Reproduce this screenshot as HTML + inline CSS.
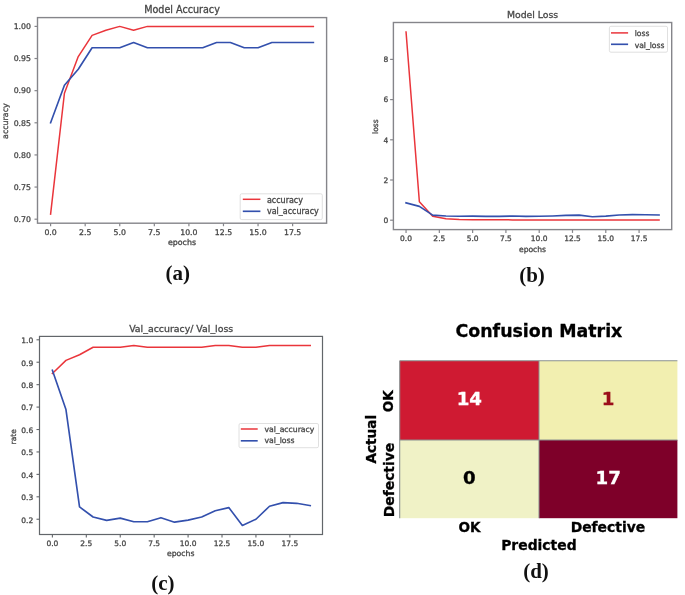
<!DOCTYPE html><html><head><meta charset="utf-8"><style>html,body{margin:0;padding:0;background:#fff;}svg{display:block;}</style></head><body>
<svg width="685" height="595" viewBox="0 0 685 595">
<rect width="685" height="595" fill="#fff"/>
<polyline points="50.60,214.06 64.43,93.23 78.26,56.60 92.09,35.39 105.92,30.25 119.75,26.39 133.58,30.25 147.41,26.39 161.24,26.39 175.07,26.39 188.90,26.39 202.73,26.39 216.56,26.39 230.39,26.39 244.22,26.39 258.05,26.39 271.88,26.39 285.71,26.39 299.54,26.39 313.37,26.39" fill="none" stroke="#ea353b" stroke-width="1.5" stroke-linejoin="round" stroke-linecap="square"/>
<polyline points="50.60,122.79 64.43,85.33 78.26,69.26 92.09,47.79 105.92,47.79 119.75,47.79 133.58,42.46 147.41,47.79 161.24,47.79 175.07,47.79 188.90,47.79 202.73,47.79 216.56,42.46 230.39,42.46 244.22,47.79 258.05,47.79 271.88,42.46 285.71,42.46 299.54,42.46 313.37,42.46" fill="none" stroke="#3350ad" stroke-width="1.65" stroke-linejoin="round" stroke-linecap="square"/>
<rect x="37.5" y="17.6" width="289.1" height="205.6" fill="none" stroke="#85858a" stroke-width="1.4"/>
<line x1="50.60" y1="223.2" x2="50.60" y2="226.2" stroke="#85858a" stroke-width="1.2"/>
<text x="50.6" y="234.8" font-size="7.8" text-anchor="middle" font-weight="normal" font-family="'DejaVu Sans', 'Liberation Sans', sans-serif" fill="#474747" stroke="#474747" stroke-width="0.3">0.0</text>
<line x1="85.18" y1="223.2" x2="85.18" y2="226.2" stroke="#85858a" stroke-width="1.2"/>
<text x="85.18" y="234.8" font-size="7.8" text-anchor="middle" font-weight="normal" font-family="'DejaVu Sans', 'Liberation Sans', sans-serif" fill="#474747" stroke="#474747" stroke-width="0.3">2.5</text>
<line x1="119.75" y1="223.2" x2="119.75" y2="226.2" stroke="#85858a" stroke-width="1.2"/>
<text x="119.75" y="234.8" font-size="7.8" text-anchor="middle" font-weight="normal" font-family="'DejaVu Sans', 'Liberation Sans', sans-serif" fill="#474747" stroke="#474747" stroke-width="0.3">5.0</text>
<line x1="154.32" y1="223.2" x2="154.32" y2="226.2" stroke="#85858a" stroke-width="1.2"/>
<text x="154.32" y="234.8" font-size="7.8" text-anchor="middle" font-weight="normal" font-family="'DejaVu Sans', 'Liberation Sans', sans-serif" fill="#474747" stroke="#474747" stroke-width="0.3">7.5</text>
<line x1="188.90" y1="223.2" x2="188.90" y2="226.2" stroke="#85858a" stroke-width="1.2"/>
<text x="188.9" y="234.8" font-size="7.8" text-anchor="middle" font-weight="normal" font-family="'DejaVu Sans', 'Liberation Sans', sans-serif" fill="#474747" stroke="#474747" stroke-width="0.3">10.0</text>
<line x1="223.47" y1="223.2" x2="223.47" y2="226.2" stroke="#85858a" stroke-width="1.2"/>
<text x="223.47" y="234.8" font-size="7.8" text-anchor="middle" font-weight="normal" font-family="'DejaVu Sans', 'Liberation Sans', sans-serif" fill="#474747" stroke="#474747" stroke-width="0.3">12.5</text>
<line x1="258.05" y1="223.2" x2="258.05" y2="226.2" stroke="#85858a" stroke-width="1.2"/>
<text x="258.05" y="234.8" font-size="7.8" text-anchor="middle" font-weight="normal" font-family="'DejaVu Sans', 'Liberation Sans', sans-serif" fill="#474747" stroke="#474747" stroke-width="0.3">15.0</text>
<line x1="292.62" y1="223.2" x2="292.62" y2="226.2" stroke="#85858a" stroke-width="1.2"/>
<text x="292.62" y="234.8" font-size="7.8" text-anchor="middle" font-weight="normal" font-family="'DejaVu Sans', 'Liberation Sans', sans-serif" fill="#474747" stroke="#474747" stroke-width="0.3">17.5</text>
<line x1="34.5" y1="219.20" x2="37.5" y2="219.20" stroke="#85858a" stroke-width="1.2"/>
<text x="31.0" y="222.01" font-size="7.8" text-anchor="end" font-weight="normal" font-family="'DejaVu Sans', 'Liberation Sans', sans-serif" fill="#474747" stroke="#474747" stroke-width="0.3">0.70</text>
<line x1="34.5" y1="187.06" x2="37.5" y2="187.06" stroke="#85858a" stroke-width="1.2"/>
<text x="31.0" y="189.87" font-size="7.8" text-anchor="end" font-weight="normal" font-family="'DejaVu Sans', 'Liberation Sans', sans-serif" fill="#474747" stroke="#474747" stroke-width="0.3">0.75</text>
<line x1="34.5" y1="154.93" x2="37.5" y2="154.93" stroke="#85858a" stroke-width="1.2"/>
<text x="31.0" y="157.74" font-size="7.8" text-anchor="end" font-weight="normal" font-family="'DejaVu Sans', 'Liberation Sans', sans-serif" fill="#474747" stroke="#474747" stroke-width="0.3">0.80</text>
<line x1="34.5" y1="122.79" x2="37.5" y2="122.79" stroke="#85858a" stroke-width="1.2"/>
<text x="31.0" y="125.6" font-size="7.8" text-anchor="end" font-weight="normal" font-family="'DejaVu Sans', 'Liberation Sans', sans-serif" fill="#474747" stroke="#474747" stroke-width="0.3">0.85</text>
<line x1="34.5" y1="90.66" x2="37.5" y2="90.66" stroke="#85858a" stroke-width="1.2"/>
<text x="31.0" y="93.47" font-size="7.8" text-anchor="end" font-weight="normal" font-family="'DejaVu Sans', 'Liberation Sans', sans-serif" fill="#474747" stroke="#474747" stroke-width="0.3">0.90</text>
<line x1="34.5" y1="58.52" x2="37.5" y2="58.52" stroke="#85858a" stroke-width="1.2"/>
<text x="31.0" y="61.33" font-size="7.8" text-anchor="end" font-weight="normal" font-family="'DejaVu Sans', 'Liberation Sans', sans-serif" fill="#474747" stroke="#474747" stroke-width="0.3">0.95</text>
<line x1="34.5" y1="26.39" x2="37.5" y2="26.39" stroke="#85858a" stroke-width="1.2"/>
<text x="31.0" y="29.2" font-size="7.8" text-anchor="end" font-weight="normal" font-family="'DejaVu Sans', 'Liberation Sans', sans-serif" fill="#474747" stroke="#474747" stroke-width="0.3">1.00</text>
<text x="182" y="12.9" font-size="9.6" text-anchor="middle" font-weight="normal" font-family="'DejaVu Sans', 'Liberation Sans', sans-serif" fill="#474747" stroke="#474747" stroke-width="0.3">Model Accuracy</text>
<text x="182" y="245.0" font-size="7.9" text-anchor="middle" font-weight="normal" font-family="'DejaVu Sans', 'Liberation Sans', sans-serif" fill="#474747" stroke="#474747" stroke-width="0.3">epochs</text>
<text x="7.8" y="121.1" font-size="7.9" text-anchor="middle" font-weight="normal" font-family="'DejaVu Sans', 'Liberation Sans', sans-serif" fill="#474747" stroke="#474747" stroke-width="0.3" transform="rotate(-90 7.8 121.1)">accuracy</text>
<rect x="240.2" y="193.8" width="82.10000000000002" height="25.799999999999983" rx="1.5" fill="#fff" fill-opacity="0.8" stroke="#d8d8d8" stroke-width="0.8"/>
<line x1="242.8" y1="199.3" x2="260.4" y2="199.3" stroke="#ea353b" stroke-width="1.5"/>
<line x1="242.8" y1="211.3" x2="260.4" y2="211.3" stroke="#3350ad" stroke-width="1.65"/>
<text x="266.9" y="202.6" font-size="8.0" text-anchor="start" font-weight="normal" font-family="'DejaVu Sans', 'Liberation Sans', sans-serif" fill="#474747" stroke="#474747" stroke-width="0.3">accuracy</text>
<text x="266.9" y="214.3" font-size="8.0" text-anchor="start" font-weight="normal" font-family="'DejaVu Sans', 'Liberation Sans', sans-serif" fill="#474747" stroke="#474747" stroke-width="0.3">val_accuracy</text>
<text x="177.8" y="279.8" font-size="21" text-anchor="middle" font-weight="bold" font-family="'Liberation Serif', 'Times New Roman', serif" fill="#111">(a)</text>
<polyline points="406.05,32.06 419.37,201.71 432.68,216.18 446.00,218.79 459.31,219.50 472.63,219.70 485.95,219.80 499.26,219.84 512.58,219.88 525.89,219.90 539.21,219.92 552.53,219.94 565.84,219.96 579.16,219.96 592.47,219.98 605.79,219.98 619.11,220.00 632.42,220.00 645.74,220.00 659.05,220.00" fill="none" stroke="#ea353b" stroke-width="1.5" stroke-linejoin="round" stroke-linecap="square"/>
<polyline points="406.05,202.83 419.37,206.35 432.68,215.07 446.00,215.98 459.31,216.28 472.63,216.08 485.95,216.40 499.26,216.40 512.58,216.04 525.89,216.44 539.21,216.26 552.53,215.98 565.84,215.42 579.16,215.13 592.47,216.74 605.79,216.18 619.11,215.01 632.42,214.69 645.74,214.75 659.05,214.95" fill="none" stroke="#3350ad" stroke-width="1.65" stroke-linejoin="round" stroke-linecap="square"/>
<rect x="393.4" y="22.5" width="278.30000000000007" height="207.1" fill="none" stroke="#85858a" stroke-width="1.4"/>
<line x1="406.05" y1="229.6" x2="406.05" y2="232.9" stroke="#85858a" stroke-width="1.2"/>
<text x="406.05" y="241.4" font-size="7.5" text-anchor="middle" font-weight="normal" font-family="'DejaVu Sans', 'Liberation Sans', sans-serif" fill="#474747" stroke="#474747" stroke-width="0.3">0.0</text>
<line x1="439.34" y1="229.6" x2="439.34" y2="232.9" stroke="#85858a" stroke-width="1.2"/>
<text x="439.34" y="241.4" font-size="7.5" text-anchor="middle" font-weight="normal" font-family="'DejaVu Sans', 'Liberation Sans', sans-serif" fill="#474747" stroke="#474747" stroke-width="0.3">2.5</text>
<line x1="472.63" y1="229.6" x2="472.63" y2="232.9" stroke="#85858a" stroke-width="1.2"/>
<text x="472.63" y="241.4" font-size="7.5" text-anchor="middle" font-weight="normal" font-family="'DejaVu Sans', 'Liberation Sans', sans-serif" fill="#474747" stroke="#474747" stroke-width="0.3">5.0</text>
<line x1="505.92" y1="229.6" x2="505.92" y2="232.9" stroke="#85858a" stroke-width="1.2"/>
<text x="505.92" y="241.4" font-size="7.5" text-anchor="middle" font-weight="normal" font-family="'DejaVu Sans', 'Liberation Sans', sans-serif" fill="#474747" stroke="#474747" stroke-width="0.3">7.5</text>
<line x1="539.21" y1="229.6" x2="539.21" y2="232.9" stroke="#85858a" stroke-width="1.2"/>
<text x="539.21" y="241.4" font-size="7.5" text-anchor="middle" font-weight="normal" font-family="'DejaVu Sans', 'Liberation Sans', sans-serif" fill="#474747" stroke="#474747" stroke-width="0.3">10.0</text>
<line x1="572.50" y1="229.6" x2="572.50" y2="232.9" stroke="#85858a" stroke-width="1.2"/>
<text x="572.5" y="241.4" font-size="7.5" text-anchor="middle" font-weight="normal" font-family="'DejaVu Sans', 'Liberation Sans', sans-serif" fill="#474747" stroke="#474747" stroke-width="0.3">12.5</text>
<line x1="605.79" y1="229.6" x2="605.79" y2="232.9" stroke="#85858a" stroke-width="1.2"/>
<text x="605.79" y="241.4" font-size="7.5" text-anchor="middle" font-weight="normal" font-family="'DejaVu Sans', 'Liberation Sans', sans-serif" fill="#474747" stroke="#474747" stroke-width="0.3">15.0</text>
<line x1="639.08" y1="229.6" x2="639.08" y2="232.9" stroke="#85858a" stroke-width="1.2"/>
<text x="639.08" y="241.4" font-size="7.5" text-anchor="middle" font-weight="normal" font-family="'DejaVu Sans', 'Liberation Sans', sans-serif" fill="#474747" stroke="#474747" stroke-width="0.3">17.5</text>
<line x1="390.09999999999997" y1="220.20" x2="393.4" y2="220.20" stroke="#85858a" stroke-width="1.2"/>
<text x="388.4" y="222.9" font-size="7.5" text-anchor="end" font-weight="normal" font-family="'DejaVu Sans', 'Liberation Sans', sans-serif" fill="#474747" stroke="#474747" stroke-width="0.3">0</text>
<line x1="390.09999999999997" y1="180.00" x2="393.4" y2="180.00" stroke="#85858a" stroke-width="1.2"/>
<text x="388.4" y="182.7" font-size="7.5" text-anchor="end" font-weight="normal" font-family="'DejaVu Sans', 'Liberation Sans', sans-serif" fill="#474747" stroke="#474747" stroke-width="0.3">2</text>
<line x1="390.09999999999997" y1="139.80" x2="393.4" y2="139.80" stroke="#85858a" stroke-width="1.2"/>
<text x="388.4" y="142.5" font-size="7.5" text-anchor="end" font-weight="normal" font-family="'DejaVu Sans', 'Liberation Sans', sans-serif" fill="#474747" stroke="#474747" stroke-width="0.3">4</text>
<line x1="390.09999999999997" y1="99.60" x2="393.4" y2="99.60" stroke="#85858a" stroke-width="1.2"/>
<text x="388.4" y="102.3" font-size="7.5" text-anchor="end" font-weight="normal" font-family="'DejaVu Sans', 'Liberation Sans', sans-serif" fill="#474747" stroke="#474747" stroke-width="0.3">6</text>
<line x1="390.09999999999997" y1="59.40" x2="393.4" y2="59.40" stroke="#85858a" stroke-width="1.2"/>
<text x="388.4" y="62.1" font-size="7.5" text-anchor="end" font-weight="normal" font-family="'DejaVu Sans', 'Liberation Sans', sans-serif" fill="#474747" stroke="#474747" stroke-width="0.3">8</text>
<text x="532.6" y="17.8" font-size="9.3" text-anchor="middle" font-weight="normal" font-family="'DejaVu Sans', 'Liberation Sans', sans-serif" fill="#474747" stroke="#474747" stroke-width="0.3">Model Loss</text>
<text x="532.5" y="251.7" font-size="7.6" text-anchor="middle" font-weight="normal" font-family="'DejaVu Sans', 'Liberation Sans', sans-serif" fill="#474747" stroke="#474747" stroke-width="0.3">epochs</text>
<text x="378.4" y="126.6" font-size="7.6" text-anchor="middle" font-weight="normal" font-family="'DejaVu Sans', 'Liberation Sans', sans-serif" fill="#474747" stroke="#474747" stroke-width="0.3" transform="rotate(-90 378.4 126.6)">loss</text>
<rect x="609.4" y="26.3" width="58.10000000000002" height="25.900000000000002" rx="1.5" fill="#fff" fill-opacity="0.8" stroke="#d8d8d8" stroke-width="0.8"/>
<line x1="611.0" y1="32.9" x2="628.1" y2="32.9" stroke="#ea353b" stroke-width="1.5"/>
<line x1="611.0" y1="44.3" x2="628.1" y2="44.3" stroke="#3350ad" stroke-width="1.65"/>
<text x="634.7" y="35.9" font-size="7.6" text-anchor="start" font-weight="normal" font-family="'DejaVu Sans', 'Liberation Sans', sans-serif" fill="#474747" stroke="#474747" stroke-width="0.3">loss</text>
<text x="634.7" y="47.7" font-size="7.6" text-anchor="start" font-weight="normal" font-family="'DejaVu Sans', 'Liberation Sans', sans-serif" fill="#474747" stroke="#474747" stroke-width="0.3">val_loss</text>
<text x="532" y="282.0" font-size="21" text-anchor="middle" font-weight="bold" font-family="'Liberation Serif', 'Times New Roman', serif" fill="#111">(b)</text>
<polyline points="52.39,373.45 65.96,360.37 79.53,354.76 93.10,347.27 106.67,347.27 120.24,347.27 133.81,345.41 147.38,347.27 160.95,347.27 174.52,347.27 188.09,347.27 201.66,347.27 215.23,345.41 228.80,345.41 242.37,347.27 255.94,347.27 269.51,345.41 283.08,345.41 296.65,345.41 310.22,345.41" fill="none" stroke="#ea353b" stroke-width="1.5" stroke-linejoin="round" stroke-linecap="square"/>
<polyline points="52.39,370.30 65.96,409.56 79.53,506.90 93.10,517.00 106.67,520.36 120.24,518.12 133.81,521.71 147.38,521.71 160.95,517.67 174.52,522.16 188.09,520.14 201.66,517.00 215.23,510.72 228.80,507.58 242.37,525.52 255.94,519.24 269.51,506.23 283.08,502.64 296.65,503.31 310.22,505.56" fill="none" stroke="#3350ad" stroke-width="1.65" stroke-linejoin="round" stroke-linecap="square"/>
<rect x="39.5" y="336.4" width="283.0" height="198.10000000000002" fill="none" stroke="#62666a" stroke-width="1.2"/>
<line x1="52.39" y1="534.5" x2="52.39" y2="537.5" stroke="#62666a" stroke-width="1.1"/>
<text x="52.39" y="545.9" font-size="7.5" text-anchor="middle" font-weight="normal" font-family="'DejaVu Sans', 'Liberation Sans', sans-serif" fill="#474747" stroke="#474747" stroke-width="0.3">0.0</text>
<line x1="86.31" y1="534.5" x2="86.31" y2="537.5" stroke="#62666a" stroke-width="1.1"/>
<text x="86.31" y="545.9" font-size="7.5" text-anchor="middle" font-weight="normal" font-family="'DejaVu Sans', 'Liberation Sans', sans-serif" fill="#474747" stroke="#474747" stroke-width="0.3">2.5</text>
<line x1="120.24" y1="534.5" x2="120.24" y2="537.5" stroke="#62666a" stroke-width="1.1"/>
<text x="120.24" y="545.9" font-size="7.5" text-anchor="middle" font-weight="normal" font-family="'DejaVu Sans', 'Liberation Sans', sans-serif" fill="#474747" stroke="#474747" stroke-width="0.3">5.0</text>
<line x1="154.17" y1="534.5" x2="154.17" y2="537.5" stroke="#62666a" stroke-width="1.1"/>
<text x="154.17" y="545.9" font-size="7.5" text-anchor="middle" font-weight="normal" font-family="'DejaVu Sans', 'Liberation Sans', sans-serif" fill="#474747" stroke="#474747" stroke-width="0.3">7.5</text>
<line x1="188.09" y1="534.5" x2="188.09" y2="537.5" stroke="#62666a" stroke-width="1.1"/>
<text x="188.09" y="545.9" font-size="7.5" text-anchor="middle" font-weight="normal" font-family="'DejaVu Sans', 'Liberation Sans', sans-serif" fill="#474747" stroke="#474747" stroke-width="0.3">10.0</text>
<line x1="222.01" y1="534.5" x2="222.01" y2="537.5" stroke="#62666a" stroke-width="1.1"/>
<text x="222.01" y="545.9" font-size="7.5" text-anchor="middle" font-weight="normal" font-family="'DejaVu Sans', 'Liberation Sans', sans-serif" fill="#474747" stroke="#474747" stroke-width="0.3">12.5</text>
<line x1="255.94" y1="534.5" x2="255.94" y2="537.5" stroke="#62666a" stroke-width="1.1"/>
<text x="255.94" y="545.9" font-size="7.5" text-anchor="middle" font-weight="normal" font-family="'DejaVu Sans', 'Liberation Sans', sans-serif" fill="#474747" stroke="#474747" stroke-width="0.3">15.0</text>
<line x1="289.87" y1="534.5" x2="289.87" y2="537.5" stroke="#62666a" stroke-width="1.1"/>
<text x="289.87" y="545.9" font-size="7.5" text-anchor="middle" font-weight="normal" font-family="'DejaVu Sans', 'Liberation Sans', sans-serif" fill="#474747" stroke="#474747" stroke-width="0.3">17.5</text>
<line x1="36.5" y1="519.24" x2="39.5" y2="519.24" stroke="#62666a" stroke-width="1.1"/>
<text x="33.2" y="522.54" font-size="7.5" text-anchor="end" font-weight="normal" font-family="'DejaVu Sans', 'Liberation Sans', sans-serif" fill="#474747" stroke="#474747" stroke-width="0.3">0.2</text>
<line x1="36.5" y1="496.81" x2="39.5" y2="496.81" stroke="#62666a" stroke-width="1.1"/>
<text x="33.2" y="500.11" font-size="7.5" text-anchor="end" font-weight="normal" font-family="'DejaVu Sans', 'Liberation Sans', sans-serif" fill="#474747" stroke="#474747" stroke-width="0.3">0.3</text>
<line x1="36.5" y1="474.38" x2="39.5" y2="474.38" stroke="#62666a" stroke-width="1.1"/>
<text x="33.2" y="477.68" font-size="7.5" text-anchor="end" font-weight="normal" font-family="'DejaVu Sans', 'Liberation Sans', sans-serif" fill="#474747" stroke="#474747" stroke-width="0.3">0.4</text>
<line x1="36.5" y1="451.95" x2="39.5" y2="451.95" stroke="#62666a" stroke-width="1.1"/>
<text x="33.2" y="455.25" font-size="7.5" text-anchor="end" font-weight="normal" font-family="'DejaVu Sans', 'Liberation Sans', sans-serif" fill="#474747" stroke="#474747" stroke-width="0.3">0.5</text>
<line x1="36.5" y1="429.52" x2="39.5" y2="429.52" stroke="#62666a" stroke-width="1.1"/>
<text x="33.2" y="432.82" font-size="7.5" text-anchor="end" font-weight="normal" font-family="'DejaVu Sans', 'Liberation Sans', sans-serif" fill="#474747" stroke="#474747" stroke-width="0.3">0.6</text>
<line x1="36.5" y1="407.09" x2="39.5" y2="407.09" stroke="#62666a" stroke-width="1.1"/>
<text x="33.2" y="410.39" font-size="7.5" text-anchor="end" font-weight="normal" font-family="'DejaVu Sans', 'Liberation Sans', sans-serif" fill="#474747" stroke="#474747" stroke-width="0.3">0.7</text>
<line x1="36.5" y1="384.66" x2="39.5" y2="384.66" stroke="#62666a" stroke-width="1.1"/>
<text x="33.2" y="387.96" font-size="7.5" text-anchor="end" font-weight="normal" font-family="'DejaVu Sans', 'Liberation Sans', sans-serif" fill="#474747" stroke="#474747" stroke-width="0.3">0.8</text>
<line x1="36.5" y1="362.23" x2="39.5" y2="362.23" stroke="#62666a" stroke-width="1.1"/>
<text x="33.2" y="365.53" font-size="7.5" text-anchor="end" font-weight="normal" font-family="'DejaVu Sans', 'Liberation Sans', sans-serif" fill="#474747" stroke="#474747" stroke-width="0.3">0.9</text>
<line x1="36.5" y1="339.80" x2="39.5" y2="339.80" stroke="#62666a" stroke-width="1.1"/>
<text x="33.2" y="343.1" font-size="7.5" text-anchor="end" font-weight="normal" font-family="'DejaVu Sans', 'Liberation Sans', sans-serif" fill="#474747" stroke="#474747" stroke-width="0.3">1.0</text>
<text x="181.2" y="332.1" font-size="9.4" text-anchor="middle" font-weight="normal" font-family="'DejaVu Sans', 'Liberation Sans', sans-serif" fill="#474747" stroke="#474747" stroke-width="0.3">Val_accuracy/ Val_loss</text>
<text x="180.7" y="556.0" font-size="7.7" text-anchor="middle" font-weight="normal" font-family="'DejaVu Sans', 'Liberation Sans', sans-serif" fill="#474747" stroke="#474747" stroke-width="0.3">epochs</text>
<text x="16.0" y="436.8" font-size="7.5" text-anchor="middle" font-weight="normal" font-family="'DejaVu Sans', 'Liberation Sans', sans-serif" fill="#474747" stroke="#474747" stroke-width="0.3" transform="rotate(-90 16.0 436.8)">rate</text>
<rect x="239.0" y="423.5" width="79.5" height="24.19999999999999" rx="1.5" fill="#fff" fill-opacity="0.8" stroke="#d8d8d8" stroke-width="0.8"/>
<line x1="240.8" y1="429.0" x2="257.7" y2="429.0" stroke="#ea353b" stroke-width="1.5"/>
<line x1="240.8" y1="440.8" x2="257.7" y2="440.8" stroke="#3350ad" stroke-width="1.65"/>
<text x="264.4" y="432.3" font-size="7.7" text-anchor="start" font-weight="normal" font-family="'DejaVu Sans', 'Liberation Sans', sans-serif" fill="#474747" stroke="#474747" stroke-width="0.3">val_accuracy</text>
<text x="264.4" y="443.0" font-size="7.7" text-anchor="start" font-weight="normal" font-family="'DejaVu Sans', 'Liberation Sans', sans-serif" fill="#474747" stroke="#474747" stroke-width="0.3">val_loss</text>
<text x="162.8" y="589.8" font-size="21" text-anchor="middle" font-weight="bold" font-family="'Liberation Serif', 'Times New Roman', serif" fill="#111">(c)</text>
<rect x="399.7" y="360.8" width="139.3" height="79.19999999999999" fill="#cf1a32"/>
<rect x="539.0" y="360.8" width="138.39999999999998" height="79.19999999999999" fill="#f2efb0"/>
<rect x="399.7" y="440.0" width="139.3" height="78.20000000000005" fill="#f0f2c6"/>
<rect x="539.0" y="440.0" width="138.39999999999998" height="78.20000000000005" fill="#7e0029"/>
<line x1="539.0" y1="360.8" x2="539.0" y2="518.2" stroke="#8a8f8f" stroke-width="1"/>
<line x1="399.7" y1="440.0" x2="677.4" y2="440.0" stroke="#8a8f8f" stroke-width="1"/>
<line x1="399.7" y1="360.8" x2="677.4" y2="360.8" stroke="#8a9292" stroke-width="1.1"/>
<line x1="399.7" y1="360.8" x2="399.7" y2="518.2" stroke="#8a9292" stroke-width="1.1"/>
<text x="469.35" y="405.0" font-size="18.2" text-anchor="middle" font-weight="bold" font-family="'DejaVu Sans', 'Liberation Sans', sans-serif" fill="#fff" stroke="#fff" stroke-width="0.3">14</text>
<text x="608.2" y="405.0" font-size="18.2" text-anchor="middle" font-weight="bold" font-family="'DejaVu Sans', 'Liberation Sans', sans-serif" fill="#9b0e1a" stroke="#9b0e1a" stroke-width="0.3">1</text>
<text x="469.35" y="483.7" font-size="18.2" text-anchor="middle" font-weight="bold" font-family="'DejaVu Sans', 'Liberation Sans', sans-serif" fill="#000" stroke="#000" stroke-width="0.3">0</text>
<text x="608.2" y="483.7" font-size="18.2" text-anchor="middle" font-weight="bold" font-family="'DejaVu Sans', 'Liberation Sans', sans-serif" fill="#fff" stroke="#fff" stroke-width="0.3">17</text>
<text x="538.9" y="336.9" font-size="17.4" text-anchor="middle" font-weight="bold" font-family="'DejaVu Sans', 'Liberation Sans', sans-serif" fill="#000" stroke="#000" stroke-width="0.3">Confusion Matrix</text>
<text x="469.6" y="532.1" font-size="13.6" text-anchor="middle" font-weight="bold" font-family="'DejaVu Sans', 'Liberation Sans', sans-serif" fill="#000" stroke="#000" stroke-width="0.3">OK</text>
<text x="607.9" y="532.1" font-size="13.9" text-anchor="middle" font-weight="bold" font-family="'DejaVu Sans', 'Liberation Sans', sans-serif" fill="#000" stroke="#000" stroke-width="0.3">Defective</text>
<text x="538.9" y="550.0" font-size="13.9" text-anchor="middle" font-weight="bold" font-family="'DejaVu Sans', 'Liberation Sans', sans-serif" fill="#000" stroke="#000" stroke-width="0.3">Predicted</text>
<text x="393.2" y="401.2" font-size="13.6" text-anchor="middle" font-weight="bold" font-family="'DejaVu Sans', 'Liberation Sans', sans-serif" fill="#000" stroke="#000" stroke-width="0.3" transform="rotate(-90 393.2 401.2)">OK</text>
<text x="394.2" y="480.0" font-size="13.9" text-anchor="middle" font-weight="bold" font-family="'DejaVu Sans', 'Liberation Sans', sans-serif" fill="#000" stroke="#000" stroke-width="0.3" transform="rotate(-90 394.2 480.0)">Defective</text>
<text x="375.9" y="439.2" font-size="13.6" text-anchor="middle" font-weight="bold" font-family="'DejaVu Sans', 'Liberation Sans', sans-serif" fill="#000" stroke="#000" stroke-width="0.3" transform="rotate(-90 375.9 439.2)">Actual</text>
<text x="536.0" y="577.6" font-size="21" text-anchor="middle" font-weight="bold" font-family="'Liberation Serif', 'Times New Roman', serif" fill="#111">(d)</text>
</svg></body></html>
